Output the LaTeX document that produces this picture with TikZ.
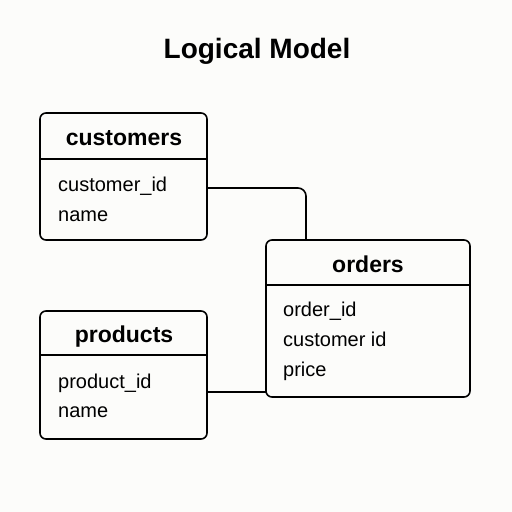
\documentclass[tikz,border=0pt]{standalone}
\usepackage{fontspec}
\setmainfont{Liberation Sans}
\definecolor{bg}{RGB}{252,252,250}
\begin{document}
\begin{tikzpicture}[x=1pt,y=-1pt,
  box/.style={draw=black,line width=1.6pt,rounded corners=6pt},
  sep/.style={draw=black,line width=1.2pt},
  conn/.style={draw=black,line width=1.6pt,rounded corners=8pt},
  hdr/.style={font=\fontsize{23}{25}\selectfont\bfseries,inner sep=0pt,anchor=base},
  item/.style={font=\fontsize{20}{22}\selectfont,inner sep=0pt,anchor=base west},
  ttl/.style={font=\fontsize{28}{30}\selectfont\bfseries,inner sep=0pt,anchor=base}]
\fill[bg] (0,0) rectangle (512,512);
\useasboundingbox (0,0) rectangle (512,512);
\node[ttl] (title) at (257,58) {Logical Model};
% customers
\draw[box] (40,113) rectangle (207,240);
\coordinate (cR) at (207,188);
\draw[sep] (40,159) -- (207,159);
\node[hdr] (cust) at (124,145) {customers};
\node[item] (c1) at (58,191) {customer\_id};
\node[item] (c2) at (58,221) {name};
% orders
\draw[box] (266,240) rectangle (470,397);
\coordinate (oT) at (306,240);
\coordinate (oL) at (266,392);
\draw[sep] (266,285) -- (470,285);
\node[hdr] (ord) at (368,272) {orders};
\node[item] (o1) at (283,316) {order\_id};
\node[item] (o2) at (283,346) {customer id};
\node[item] (o3) at (283,376) {price};
% products
\draw[box] (40,311) rectangle (207,439);
\coordinate (pR) at (207,392);
\draw[sep] (40,355) -- (207,355);
\node[hdr] (prod) at (124,342) {products};
\node[item] (p1) at (58,388) {product\_id};
\node[item] (p2) at (58,417) {name};
% connectors
\draw[conn] (cR) -- (306,188) -- (oT);
\draw[conn] (pR) -- (oL);
\end{tikzpicture}
\end{document}
